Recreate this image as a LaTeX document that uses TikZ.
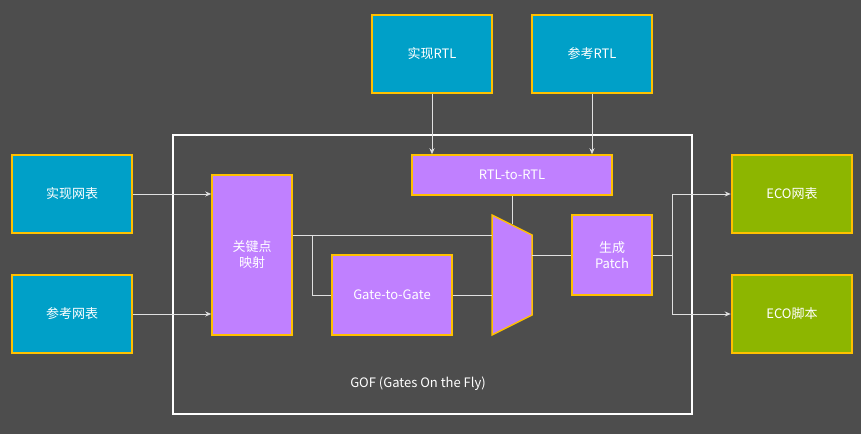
\documentclass[tikz,border=0pt]{standalone}
\usepackage{fontspec}
\setmainfont{Noto Sans CJK SC}
\usetikzlibrary{arrows.meta}
\definecolor{bg}{HTML}{4D4D4D}
\definecolor{bluef}{HTML}{00A0C8}
\definecolor{gold}{HTML}{FFC000}
\definecolor{purp}{HTML}{C080FF}
\definecolor{greenf}{HTML}{8DB600}
\definecolor{ln}{HTML}{E0E0E0}
\begin{document}
\begin{tikzpicture}[x=1pt,y=-1pt,
  box/.style={draw=gold,line width=2.5pt,text=white,font=\fontsize{13}{16}\selectfont,align=center,inner sep=0pt},
  blue/.style={box,fill=bluef},
  green/.style={box,fill=greenf},
  pbox/.style={draw=gold,line width=1.5pt,fill=purp,text=white,font=\fontsize{13}{16}\selectfont,align=center,inner sep=0pt},
  con/.style={draw=ln,line width=0.8pt},
  arr/.style={con,-{Stealth[length=6pt,width=5pt]}}]
\fill[bg] (0,0) rectangle (861,434);
\useasboundingbox (0,0) rectangle (861,434);
\node[draw=white,line width=2pt,minimum width=519pt,minimum height=279pt,inner sep=0pt] (frame) at (432.5,274.5) {};
\node[text=white,font=\fontsize{13}{16}\selectfont] (gof) at (418,384) {GOF (Gates On the Fly)};
\node[blue,minimum width=120pt,minimum height=78pt] (irtl) at (432,54) {实现RTL};
\node[blue,minimum width=120pt,minimum height=78pt] (rrtl) at (592,54) {参考RTL};
\node[blue,minimum width=120pt,minimum height=78pt] (inet) at (72,194) {实现网表};
\node[blue,minimum width=120pt,minimum height=78pt] (rnet) at (72,314) {参考网表};
\node[green,minimum width=120pt,minimum height=78pt] (eonet) at (792,194) {ECO网表};
\node[green,minimum width=120pt,minimum height=78pt] (eoscr) at (792,314) {ECO脚本};
\node[pbox,minimum width=80pt,minimum height=160pt] (map) at (252,255) {关键点\\映射};
\node[pbox,minimum width=200pt,minimum height=40pt] (r2r) at (512,175) {RTL-to-RTL};
\node[pbox,minimum width=120pt,minimum height=80pt] (g2g) at (392,295) {Gate-to-Gate};
\node[pbox,minimum width=80pt,minimum height=80pt] (patch) at (612,255) {生成\\Patch};
\draw[draw=gold,line width=1.5pt,fill=purp] (492,215) -- (532,235) -- (532,315) -- (492,335) -- cycle;
\coordinate (muxin1) at (492,235);
\coordinate (muxin2) at (492,295);
\coordinate (muxtop) at (512,224);
\coordinate (muxout) at (532,255);
\draw[arr] (irtl.south) -- (irtl.south |- r2r.north);
\draw[arr] (rrtl.south) -- (rrtl.south |- r2r.north);
\draw[arr] (inet.east) -- (inet.east -| map.west);
\draw[arr] (rnet.east) -- (rnet.east -| map.west);
\draw[con] (map.east |- muxin1) -- (muxin1);
\draw[con] (312,235) -- (312,295) -- (g2g.west);
\draw[con] (g2g.east) -- (muxin2);
\draw[con] (r2r.south) -- (muxtop);
\draw[con] (muxout) -- (patch.west);
\draw[con] (patch.east) -- (672,255);
\draw[arr] (672,255) -- (672,194) -- (eonet.west);
\draw[arr] (672,255) -- (672,314) -- (eoscr.west);
\end{tikzpicture}
\end{document}
